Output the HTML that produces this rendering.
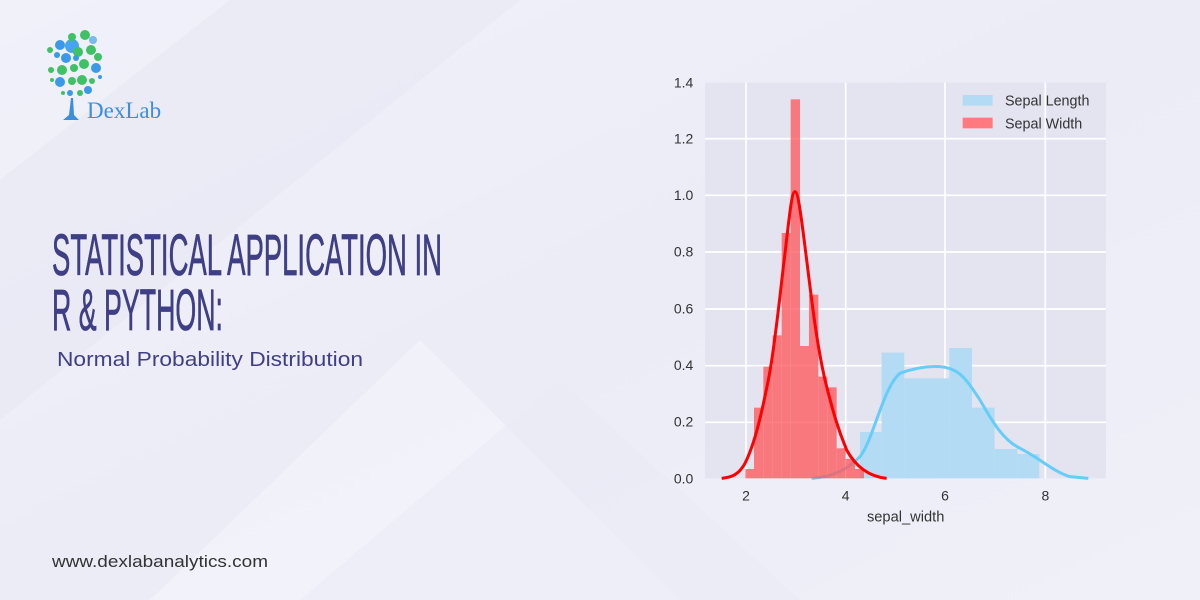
<!DOCTYPE html>
<html><head><meta charset="utf-8"><style>
html,body{margin:0;padding:0}
body{width:1200px;height:600px;overflow:hidden;background:#eeeef8;font-family:"Liberation Sans",sans-serif}
</style></head><body>
<svg width="1200" height="600" viewBox="0 0 1200 600" xmlns="http://www.w3.org/2000/svg" style="display:block">
<defs>
<linearGradient id="bg" x1="0" y1="0" x2="1" y2="1">
<stop offset="0" stop-color="#f1f1fa"/><stop offset="0.5" stop-color="#ececf7"/><stop offset="1" stop-color="#f0f0f9"/>
</linearGradient>
</defs>
<rect width="1200" height="600" fill="url(#bg)"/>
<polygon points="0,180 230,0 520,0 0,420" fill="#e8e8f4" opacity="0.6"/>
<polygon points="150,600 420,340 680,600" fill="#f4f4fb" opacity="0.7"/>
<polygon points="300,600 560,380 800,600" fill="#eaeaf5" opacity="0.5"/>

<!-- logo -->
<g>
<circle cx="60" cy="45" r="5" fill="#3a9ae8"/><circle cx="72" cy="46" r="7" fill="#48a4ec"/><circle cx="72" cy="37" r="4" fill="#3ec264"/>
<circle cx="85" cy="35" r="5" fill="#3ec264"/><circle cx="93" cy="40" r="4" fill="#7ab8f0"/><circle cx="57" cy="55" r="3" fill="#3a9ae8"/>
<circle cx="50" cy="50" r="3" fill="#3ec264"/><circle cx="66" cy="58" r="5" fill="#3a9ae8"/><circle cx="78" cy="52" r="5" fill="#3ec264"/>
<circle cx="91" cy="50" r="5" fill="#3ec264"/><circle cx="98" cy="57" r="4" fill="#3ec264"/><circle cx="62" cy="70" r="5" fill="#3ec264"/>
<circle cx="74" cy="68" r="4" fill="#3ec264"/><circle cx="84" cy="64" r="5" fill="#3ec264"/><circle cx="96" cy="68" r="5" fill="#3a9ae8"/>
<circle cx="51" cy="70" r="3" fill="#3ec264"/><circle cx="52" cy="80" r="2" fill="#3ec264"/><circle cx="60" cy="82" r="5" fill="#3a9ae8"/>
<circle cx="72" cy="81" r="4" fill="#3ec264"/><circle cx="82" cy="80" r="5" fill="#3ec264"/><circle cx="92" cy="81" r="3" fill="#3ec264"/>
<circle cx="100" cy="77" r="2" fill="#3a9ae8"/><circle cx="70" cy="93" r="3" fill="#3a9ae8"/><circle cx="80" cy="93" r="3" fill="#3ec264"/>
<circle cx="88" cy="90" r="4" fill="#3a9ae8"/><circle cx="63" cy="93" r="2" fill="#3ec264"/><circle cx="76" cy="58" r="3" fill="#3a9ae8"/>
<path d="M71,98 L73,98 L74,115 L79,120 L63,120 L69,115 Z" fill="#3a8fe0"/>
<text x="87" y="118" font-family="Liberation Serif,serif" font-size="23" fill="#3a8fe0">DexLab</text>
</g>

<!-- title -->
<g fill="#3f3f86" stroke="#3f3f86" stroke-width="0.8">
<text x="52" y="275" font-size="58" textLength="390" lengthAdjust="spacingAndGlyphs">STATISTICAL APPLICATION IN</text>
<text x="52" y="330" font-size="58" textLength="171" lengthAdjust="spacingAndGlyphs">R &amp; PYTHON:</text>
</g>
<text x="57" y="366" font-size="20" fill="#3f3f86" textLength="306" lengthAdjust="spacingAndGlyphs">Normal Probability Distribution</text>
<text x="52" y="567" font-size="17" fill="#333" textLength="216" lengthAdjust="spacingAndGlyphs">www.dexlabanalytics.com</text>

<!-- chart in zoom coords -->
<g transform="translate(660,60) scale(0.33333)">
<rect x="135" y="68" width="1203" height="1187" fill="#e4e4f0"/>
<g stroke="#fff" stroke-width="5">
<line x1="135" x2="1338" y1="1087" y2="1087"/><line x1="135" x2="1338" y1="917" y2="917"/>
<line x1="135" x2="1338" y1="747" y2="747"/><line x1="135" x2="1338" y1="576" y2="576"/>
<line x1="135" x2="1338" y1="406" y2="406"/><line x1="135" x2="1338" y1="236" y2="236"/>
<line y1="68" y2="1255" x1="258" x2="258"/><line y1="68" y2="1255" x1="557" x2="557"/>
<line y1="68" y2="1255" x1="855" x2="855"/><line y1="68" y2="1255" x1="1156" x2="1156"/>
</g>
<g fill="#b3dbf3">
<rect x="600" y="1116" width="65" height="139"/><rect x="665" y="878" width="68" height="377"/>
<rect x="733" y="955" width="135" height="300"/><rect x="868" y="864" width="68" height="391"/>
<rect x="936" y="1043" width="68" height="212"/><rect x="1004" y="1167" width="68" height="88"/>
<rect x="1072" y="1182" width="66" height="73"/>
</g>
<path d="M455,1255 C520,1250 560,1230 600,1190 C640,1140 670,980 720,940 C760,925 800,918 840,920 C900,925 920,960 960,1020 C1000,1090 1030,1140 1080,1165 C1140,1195 1180,1235 1230,1250 L1285,1255" fill="none" stroke="#66ccf8" stroke-width="9"/>
<g fill="#ff5a5f" opacity="0.78">
<rect x="256" y="1227" width="26" height="28"/><rect x="282" y="1043" width="28" height="212"/>
<rect x="310" y="920" width="28" height="335"/><rect x="338" y="826" width="27" height="429"/>
<rect x="365" y="519" width="27" height="736"/><rect x="392" y="118" width="28" height="1137"/>
<rect x="420" y="858" width="27" height="397"/><rect x="447" y="704" width="28" height="551"/>
<rect x="475" y="950" width="27" height="305"/><rect x="502" y="982" width="28" height="273"/>
<rect x="530" y="1165" width="27" height="90"/><rect x="557" y="1197" width="28" height="58"/>
<rect x="585" y="1227" width="27" height="28"/>
</g>
<path d="M185,1255 C215,1252 235,1245 255,1210 C285,1150 305,1060 325,960 C345,860 360,700 375,580 C388,470 395,395 405,395 C415,395 425,480 440,600 C455,720 470,850 495,960 C520,1060 535,1110 560,1170 C590,1225 630,1250 680,1255" fill="none" stroke="#ff0000" stroke-width="9"/>
<g font-size="42" fill="#333" font-family="Liberation Sans,sans-serif">
<g text-anchor="end">
<text x="100" y="1270">0.0</text><text x="100" y="1100">0.2</text><text x="100" y="930">0.4</text>
<text x="100" y="760">0.6</text><text x="100" y="590">0.8</text><text x="100" y="420">1.0</text>
<text x="100" y="250">1.2</text><text x="100" y="82">1.4</text>
</g>
<g text-anchor="middle">
<text x="258" y="1322">2</text><text x="557" y="1322">4</text><text x="855" y="1322">6</text><text x="1156" y="1322">8</text>
<text x="737" y="1385" font-size="44">sepal_width</text>
</g>
<rect x="908" y="105" width="90" height="32" fill="#b3dbf3"/>
<rect x="908" y="173" width="90" height="32" fill="#ff7a7e"/>
<text x="1035" y="137" font-size="43">Sepal Length</text>
<text x="1035" y="205" font-size="43">Sepal Width</text>
</g>
</g>
</svg>
</body></html>
